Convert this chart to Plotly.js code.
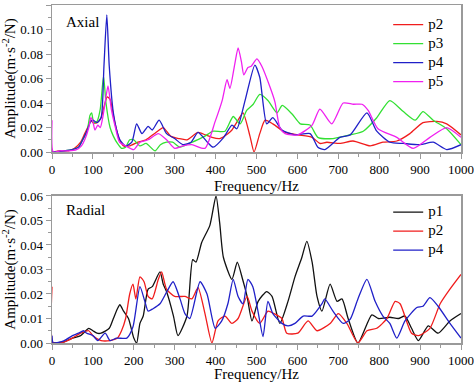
<!DOCTYPE html>
<html>
<head>
<meta charset="utf-8">
<script src="https://cdn.plot.ly/plotly-3.0.1.min.js"></script>
<style>html,body{margin:0;padding:0;background:#fff;}#chart{width:474px;height:382px;}</style>
</head>
<body>
<div id="chart"></div>
<script>
// ---------- Axial (top panel) ----------
const axP2F = [0, 20, 40, 55, 70, 80, 90, 95, 100, 110, 120, 128, 135, 142, 150, 158, 165, 175, 190, 210, 230, 250, 262, 272, 290, 310, 330, 357, 375, 391, 410, 430, 440, 455, 467, 484, 494, 508, 521, 540, 570, 601, 636, 655, 672, 704, 736, 778, 809, 843, 875, 907, 941, 965, 1000];
const axP2V = [0.0, 0.001, 0.001, 0.003, 0.008, 0.015, 0.022, 0.026, 0.024, 0.024, 0.028, 0.038, 0.045, 0.043, 0.03, 0.018, 0.01, 0.005, 0.005, 0.008, 0.01, 0.015, 0.018, 0.02, 0.013, 0.011, 0.01, 0.016, 0.014, 0.012, 0.011, 0.015, 0.018, 0.026, 0.032, 0.013, 0.0, 0.015, 0.026, 0.023, 0.016, 0.014, 0.012, 0.007, 0.008, 0.007, 0.009, 0.005, 0.008, 0.009, 0.015, 0.024, 0.025, 0.023, 0.014];

const axP3F = [0, 30, 50, 65, 75, 85, 93, 97, 102, 110, 118, 126, 132, 142, 150, 160, 170, 180, 190, 200, 215, 230, 252, 265, 280, 295, 313, 335, 362, 374, 394, 423, 443, 460, 476, 492, 508, 528, 550, 563, 587, 607, 631, 650, 687, 729, 761, 794, 826, 859, 888, 907, 932, 965, 1000];
const axP3V = [0.0, 0.001, 0.002, 0.004, 0.01, 0.016, 0.03, 0.032, 0.024, 0.025, 0.035, 0.062, 0.04, 0.02, 0.013, 0.007, 0.003, 0.004, 0.01, 0.01, 0.005, 0.007, 0.001, 0.006, 0.008, 0.008, 0.004, 0.007, 0.011, 0.013, 0.017, 0.017, 0.029, 0.023, 0.034, 0.039, 0.047, 0.042, 0.032, 0.038, 0.031, 0.023, 0.022, 0.012, 0.011, 0.014, 0.017, 0.028, 0.042, 0.033, 0.026, 0.033, 0.026, 0.019, 0.006];

const axP4F = [0, 30, 50, 65, 75, 85, 95, 100, 110, 120, 127, 134, 140, 150, 158, 166, 180, 195, 207, 220, 235, 245, 262, 280, 300, 320, 340, 357, 380, 394, 420, 440, 452, 472, 496, 508, 525, 540, 562, 594, 631, 650, 667, 704, 729, 770, 794, 826, 859, 900, 932, 965, 1000];
const axP4V = [0.0, 0.001, 0.002, 0.004, 0.01, 0.017, 0.025, 0.026, 0.024, 0.028, 0.07, 0.112, 0.07, 0.032, 0.018, 0.01, 0.005, 0.008, 0.023, 0.015, 0.021, 0.018, 0.026, 0.015, 0.011, 0.006, 0.008, 0.016, 0.008, 0.004, 0.012, 0.022, 0.019, 0.042, 0.071, 0.061, 0.023, 0.028, 0.018, 0.014, 0.015, 0.004, 0.002, 0.012, 0.014, 0.032, 0.017, 0.008, 0.007, 0.006, 0.008, 0.002, 0.006];

const axP5F = [0, 3, 20, 40, 60, 72, 80, 90, 95, 100, 105, 112, 118, 125, 132, 137, 145, 155, 165, 180, 200, 215, 235, 260, 280, 300, 320, 342, 374, 399, 416, 428, 435, 447, 455, 463, 469, 479, 487, 501, 513, 533, 545, 557, 570, 601, 636, 655, 684, 712, 737, 758, 773, 797, 843, 883, 924, 965, 1000];
const axP5V = [0.026, 0.0, 0.001, 0.001, 0.002, 0.005, 0.01, 0.02, 0.028, 0.025, 0.018, 0.022, 0.02, 0.03, 0.045, 0.054, 0.035, 0.02, 0.008, 0.005, 0.002, 0.008, 0.01, 0.015, 0.01, 0.003, 0.005, 0.006, 0.003, 0.025, 0.042, 0.059, 0.052, 0.072, 0.085, 0.074, 0.063, 0.069, 0.07, 0.076, 0.07, 0.053, 0.041, 0.02, 0.015, 0.014, 0.022, 0.035, 0.023, 0.04, 0.039, 0.039, 0.034, 0.019, 0.012, 0.003, 0.012, 0.02, 0.012];

// ---------- Radial (bottom panel) ----------
const raP1F = [0, 30, 50, 70, 90, 100, 110, 120, 140, 150, 160, 166, 175, 187, 200, 207, 215, 223, 235, 245, 264, 272, 280, 297, 308, 330, 344, 352, 366, 386, 401, 410, 419, 440, 453, 466, 477, 489, 504, 525, 538, 557, 577, 594, 611, 623, 636, 648, 660, 680, 697, 709, 724, 748, 782, 798, 826, 847, 863, 879, 896, 920, 944, 973, 1000];
const raP1V = [0.0, 0.0005, 0.002, 0.003, 0.006, 0.005, 0.004, 0.004, 0.006, 0.01, 0.014, 0.0156, 0.013, 0.01, 0.002, 0.0, 0.008, 0.011, 0.022, 0.023, 0.029, 0.024, 0.021, 0.011, 0.003, 0.011, 0.034, 0.033, 0.041, 0.048, 0.06, 0.049, 0.035, 0.026, 0.033, 0.026, 0.019, 0.009, 0.017, 0.021, 0.019, 0.008, 0.017, 0.027, 0.035, 0.0415, 0.033, 0.019, 0.013, 0.024, 0.017, 0.018, 0.01, 0.0, 0.0115, 0.01, 0.0105, 0.01, 0.011, 0.006, 0.001, 0.007, 0.004, 0.009, 0.012];

const raP2F = [0, 3, 30, 50, 70, 90, 100, 120, 142, 160, 170, 180, 190, 198, 205, 215, 225, 235, 245, 260, 268, 280, 300, 325, 342, 357, 374, 391, 406, 423, 440, 455, 477, 489, 508, 528, 543, 562, 574, 601, 626, 648, 680, 700, 721, 748, 770, 794, 819, 839, 851, 879, 896, 924, 949, 973, 1000];
const raP2V = [0.023, 0.0, 0.0005, 0.002, 0.004, 0.005, 0.003, 0.001, 0.001, 0.002, 0.005, 0.01, 0.02, 0.024, 0.018, 0.027, 0.025, 0.019, 0.018, 0.026, 0.029, 0.022, 0.019, 0.019, 0.018, 0.0226, 0.012, 0.0, 0.009, 0.011, 0.008, 0.01, 0.019, 0.013, 0.008, 0.013, 0.012, 0.01, 0.004, 0.004, 0.009, 0.005, 0.008, 0.012, 0.008, 0.0, 0.005, 0.006, 0.01, 0.017, 0.016, 0.004, 0.003, 0.006, 0.016, 0.022, 0.028];

const raP4F = [0, 3, 30, 50, 65, 77, 85, 100, 112, 130, 142, 158, 183, 198, 215, 227, 235, 247, 264, 281, 296, 313, 325, 337, 362, 379, 399, 415, 430, 443, 455, 467, 479, 491, 504, 516, 528, 540, 562, 577, 594, 614, 636, 660, 667, 687, 712, 729, 748, 770, 790, 809, 826, 843, 863, 892, 907, 924, 944, 973, 1000];
const raP4V = [0.003, 0.0, 0.001, 0.003, 0.004, 0.005, 0.004, 0.003, 0.001, 0.004, 0.001, 0.002, 0.002, 0.0066, 0.023, 0.017, 0.013, 0.014, 0.016, 0.021, 0.025, 0.018, 0.012, 0.01, 0.025, 0.02, 0.006, 0.009, 0.016, 0.026, 0.019, 0.016, 0.026, 0.023, 0.0126, 0.0026, 0.017, 0.012, 0.008, 0.007, 0.008, 0.011, 0.011, 0.016, 0.018, 0.013, 0.008, 0.0097, 0.018, 0.026, 0.017, 0.011, 0.008, 0.002, 0.009, 0.0145, 0.015, 0.0185, 0.015, 0.008, 0.002];

const xTickVals = [0, 100, 200, 300, 400, 500, 600, 700, 800, 900, 1000];
const topTitle = 'Axial';
const botTitle = 'Radial';
const xTitle = 'Frequency/Hz';
const yTitle = 'Amplitude(m·s<sup>-2</sup>/N)';

const RED = '#f01c1c', GREEN = '#33e033', BLUE = '#2020c8', MAG = '#f020f0', BLK = '#111111';
const FONT = '"Liberation Serif", "Times New Roman", Times, serif';

function legName(s) { return '<span style="font-size:15px">' + s + '</span>'; }

function tr(x, y, name, color, xa, ya, leg) {
  return {x: x, y: y, name: legName(name), type: 'scatter', mode: 'lines',
    line: {color: color, width: 1.3, shape: 'spline', smoothing: 0.6},
    xaxis: xa, yaxis: ya, legend: leg};
}

const data = [
  tr(axP2F, axP2V, 'p2', RED, 'x', 'y', 'legend'),
  tr(axP3F, axP3V, 'p3', GREEN, 'x', 'y', 'legend'),
  tr(axP4F, axP4V, 'p4', BLUE, 'x', 'y', 'legend'),
  tr(axP5F, axP5V, 'p5', MAG, 'x', 'y', 'legend'),
  tr(raP1F, raP1V, 'p1', BLK, 'x2', 'y2', 'legend2'),
  tr(raP2F, raP2V, 'p2', RED, 'x2', 'y2', 'legend2'),
  tr(raP4F, raP4V, 'p4', BLUE, 'x2', 'y2', 'legend2')
];

const axLine = '#9a9a9a';
function xax(anchor) {
  return {anchor: anchor, domain: [0, 1], range: [0, 1000], tickvals: xTickVals,
    showgrid: false, zeroline: false, showline: true, linecolor: axLine, linewidth: 1.5, mirror: true,
    ticks: 'outside', ticklen: 5, tickcolor: axLine, tickwidth: 1,
    minor: {dtick: 50, ticks: 'outside', ticklen: 3, tickcolor: axLine, showgrid: false},
    tickfont: {family: FONT, size: 13, color: '#000'},
    title: {text: xTitle, font: {family: FONT, size: 15, color: '#000'}, standoff: 4}};
}
function yax(anchor, dom, rng, dt) {
  return {anchor: anchor, domain: dom, range: rng, dtick: dt, tick0: 0, tickformat: '.2f',
    showgrid: false, zeroline: false, showline: true, linecolor: axLine, linewidth: 1.5, mirror: true,
    ticks: 'outside', ticklen: 5, tickcolor: axLine, tickwidth: 1,
    minor: {dtick: dt / 2, ticks: 'outside', ticklen: 3, tickcolor: axLine, showgrid: false},
    tickfont: {family: FONT, size: 13, color: '#000'},
    title: {text: yTitle, font: {family: FONT, size: 15, color: '#000'}, standoff: 4}};
}

const layout = {
  width: 474, height: 382,
  margin: {l: 52, r: 13, t: 5, b: 39},
  paper_bgcolor: '#fff', plot_bgcolor: '#fff',
  font: {family: FONT, color: '#000'},
  xaxis: xax('y'),
  yaxis: yax('x', [0.565, 1], [0, 0.12], 0.02),
  xaxis2: xax('y2'),
  yaxis2: yax('x2', [0, 0.435], [0, 0.06], 0.01),
  legend: {x: 0.822, y: 0.985, xanchor: 'left', yanchor: 'top', bgcolor: 'rgba(0,0,0,0)',
    font: {family: FONT, size: 11, color: '#000'}, tracegroupgap: 0, itemwidth: 30},
  legend2: {x: 0.822, y: 0.43, xanchor: 'left', yanchor: 'top', bgcolor: 'rgba(0,0,0,0)',
    font: {family: FONT, size: 11, color: '#000'}, tracegroupgap: 0, itemwidth: 30},
  annotations: [
    {text: topTitle, xref: 'paper', yref: 'paper', x: 0.03, y: 0.95, xanchor: 'left', yanchor: 'middle',
      showarrow: false, font: {family: FONT, size: 15, color: '#000'}},
    {text: botTitle, xref: 'paper', yref: 'paper', x: 0.03, y: 0.393, xanchor: 'left', yanchor: 'middle',
      showarrow: false, font: {family: FONT, size: 15, color: '#000'}}
  ]
};

Plotly.newPlot('chart', data, layout, {displayModeBar: false, staticPlot: true});
</script>
</body>
</html>
